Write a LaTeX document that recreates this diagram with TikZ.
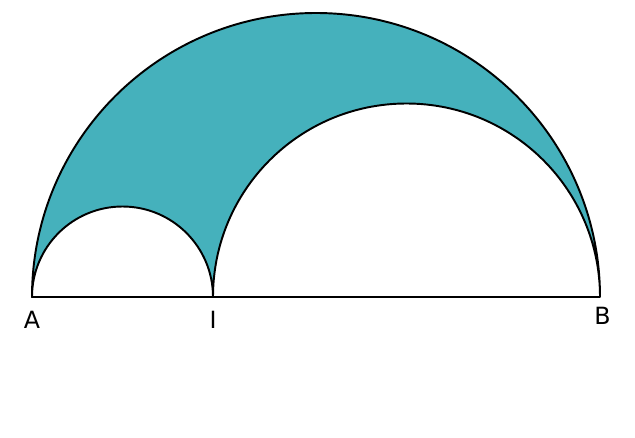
\documentclass[tikz,border=0pt]{standalone}
\usepackage{fontspec}
\setmainfont{DejaVu Sans}
\usetikzlibrary{positioning}
\definecolor{teal}{HTML}{45B1BC}
\tikzset{shaded/.style={
            draw,
            fill=teal,
            line width=1.1pt,
            line join=round
        },
        base/.style={
            draw,
            line width=1.1pt
        },
        point/.style={
            font=\fontsize{13.5}{16}\selectfont,
            inner sep=0pt,
            anchor=north
        }
    }
\begin{document}
\begin{tikzpicture}[x=0.02cm,y=0.02cm]
        \useasboundingbox (0,0) rectangle (635,437);
        \coordinate (A) at (32,140);
        \coordinate (I) at (213,140);
        \coordinate (B) at (600,140);

        \path[shaded] (A) arc[start angle=180,end angle=0,radius=284]
            arc[start angle=0,end angle=180,radius=193.5]
            arc[start angle=0,end angle=180,radius=90.5] -- cycle;
        \draw[base] (A) -- (I) -- (B);

        \node[point,below=8pt of A] (lA) {A};
        \node[point,below=8pt of I] (lI) {I};
        \node[point,below=5.7pt of B,xshift=1.4pt] (lB) {B};
    \end{tikzpicture}
\end{document}
